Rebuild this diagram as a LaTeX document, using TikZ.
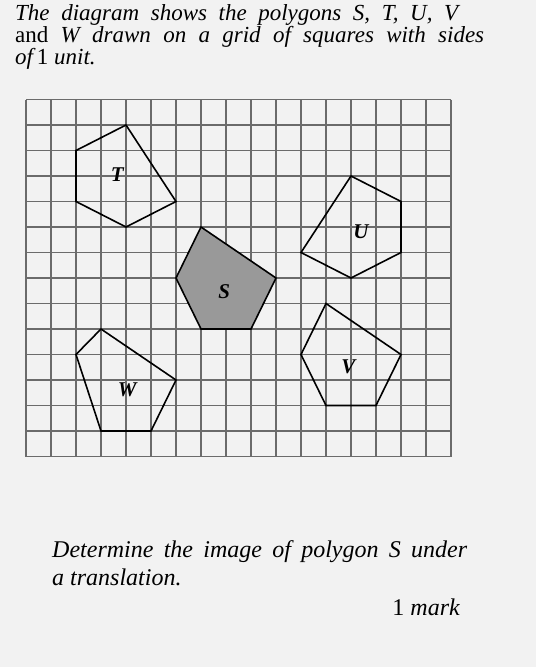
\documentclass[tikz,border=0pt]{standalone}
\usepackage{fontspec}
\setmainfont{Liberation Serif}
\begin{document}
\begin{tikzpicture}[x=1pt,y=-1pt,
  gridline/.style={draw=black!58,line width=1.1pt},
  poly/.style={draw=black,line width=1.6pt,line join=miter},
  shaded/.style={poly,fill=black!40},
  plabel/.style={font=\fontsize{21}{21}\selectfont\bfseries\itshape,inner sep=0pt},
  txt/.style={anchor=base west,inner sep=0pt,font=\fontsize{23}{23}\selectfont},
  btxt/.style={txt,font=\fontsize{24}{24}\selectfont}]
\useasboundingbox[fill=black!5] (0,0) rectangle (536,667);
% header text
\node[txt] (l1) at (15,20) {\makebox[443pt][s]{\itshape The diagram shows the polygons S, T, U, V}};
\node[txt] (l2) at (15,42) {\makebox[469pt][s]{and \itshape W drawn on a grid of squares with sides}};
\node[txt] (l3) at (15,64) {\itshape of\,\upshape 1 \itshape unit.};
% grid
\begin{scope}[shift={(26,99.5)},xscale=25,yscale=25.5]
  \foreach \i in {0,...,17} {\draw[gridline] (\i,0) -- (\i,14);}
  \foreach \j in {0,...,14} {\draw[gridline] (0,\j) -- (17,\j);}
  \draw[shaded] (7,5) -- (6,7) -- (7,9) -- (9,9) -- (10,7) -- cycle;
  \draw[poly] (4,1) -- (2,2) -- (2,4) -- (4,5) -- (6,4) -- cycle;
  \draw[poly] (13,3) -- (11,6) -- (13,7) -- (15,6) -- (15,4) -- cycle;
  \draw[poly] (12,8) -- (11,10) -- (12,12) -- (14,12) -- (15,10) -- cycle;
  \draw[poly] (3,9) -- (2,10) -- (3,13) -- (5,13) -- (6,11) -- cycle;
  \node[plabel] (S) at (7.93,7.55) {S};
  \node[plabel] (T) at (3.65,2.95) {T};
  \node[plabel] (U) at (13.4,5.2) {U};
  \node[plabel] (V) at (12.9,10.5) {V};
  \node[plabel] (W) at (4.05,11.4) {W};
\end{scope}
% footer text
\node[btxt] (b1) at (52,557) {\makebox[415pt][s]{\itshape Determine the image of polygon S under}};
\node[btxt] (b2) at (52,585) {\itshape a translation.};
\node[btxt,anchor=base east] (b3) at (460,615) {1 \itshape mark};
\end{tikzpicture}
\end{document}
